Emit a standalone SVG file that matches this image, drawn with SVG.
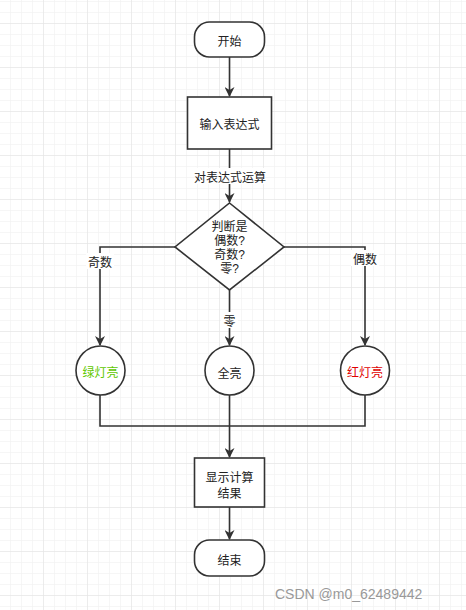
<svg xmlns="http://www.w3.org/2000/svg" width="466" height="610" viewBox="0 0 466 610">
<defs>
<pattern id="minor" width="11" height="11" patternUnits="userSpaceOnUse" x="-1" y="1">
<path d="M0 0H11M0 0V11" fill="none" stroke="#eeeeee" stroke-width="1"/>
</pattern>
<pattern id="major" width="44" height="44" patternUnits="userSpaceOnUse" x="-1" y="23">
<path d="M0 0H44M0 0V44" fill="none" stroke="#e2e2e2" stroke-width="1"/>
</pattern>
<marker id="arr" markerWidth="10" markerHeight="10" refX="9" refY="5" orient="auto" markerUnits="userSpaceOnUse">
<path d="M0 0L10 5L0 10L3 5Z" fill="#333"/>
</marker>
<style>
.n{fill:#fff;stroke:#333;stroke-width:1.6}
.c{fill:none;stroke:#333;stroke-width:1.6}
.t{font-family:"Noto Sans CJK SC","Liberation Sans",sans-serif;font-size:12px;fill:#222;text-anchor:middle;dominant-baseline:central}
.d{font-family:"Liberation Sans","Noto Sans CJK SC",sans-serif;font-size:12px;fill:#222;text-anchor:middle}
.lb{fill:#fff}
</style>
</defs>
<rect width="466" height="610" fill="#fff"/>
<rect width="466" height="610" fill="url(#minor)"/>
<rect width="466" height="610" fill="url(#major)"/>
<g id="connectors">
<path class="c" d="M229.5 57V96" marker-end="url(#arr)"/>
<path class="c" d="M229.5 149V202" marker-end="url(#arr)"/>
<rect class="lb" x="195" y="168" width="70" height="16"/>
<text class="t" x="230" y="176">对表达式运算</text>
<path class="c" d="M175 247H100V345" marker-end="url(#arr)"/>
<rect class="lb" x="86" y="253" width="28" height="16"/>
<text class="t" x="100" y="261">奇数</text>
<path class="c" d="M284 247H365V345" marker-end="url(#arr)"/>
<rect class="lb" x="351" y="250" width="28" height="16"/>
<text class="t" x="365" y="258">偶数</text>
<path class="c" d="M229.5 290V345" marker-end="url(#arr)"/>
<rect class="lb" x="221" y="312" width="17" height="16"/>
<text class="t" x="229.5" y="320">零</text>
<path class="c" d="M100 395V426H365V395"/>
<path class="c" d="M229.5 395V457" marker-end="url(#arr)"/>
<path class="c" d="M229.5 507V539" marker-end="url(#arr)"/>
</g>
<g id="start">
<rect class="n" x="194.5" y="22" width="70" height="35" rx="15"/>
<text class="t" x="229.5" y="40">开始</text>
</g>
<g id="input">
<rect class="n" x="187.5" y="97" width="84" height="52"/>
<text class="t" x="229.5" y="123">输入表达式</text>
</g>
<g id="decision">
<path class="n" d="M229.5 203L284 247L229.5 290L175 247Z"/>
<text class="d"><tspan x="229.5" y="230.5">判断是</tspan><tspan x="229.5" y="244.5">偶数?</tspan><tspan x="229.5" y="258.5">奇数?</tspan><tspan x="229.5" y="272.5">零?</tspan></text>
</g>
<g id="green">
<circle class="n" cx="100.5" cy="370.5" r="24.5"/>
<text class="t" x="100.5" y="371" style="fill:#5fc800">绿灯亮</text>
</g>
<g id="all">
<circle class="n" cx="229.5" cy="370.5" r="24.5"/>
<text class="t" x="229.5" y="372">全亮</text>
</g>
<g id="red">
<circle class="n" cx="365" cy="370.5" r="24.5"/>
<text class="t" x="365" y="371" style="fill:#e00000">红灯亮</text>
</g>
<g id="result">
<rect class="n" x="194.5" y="458" width="70" height="49"/>
<text class="t"><tspan x="229.5" y="476">显示计算</tspan><tspan x="229.5" y="492">结果</tspan></text>
</g>
<g id="end">
<rect class="n" x="194.5" y="540" width="70" height="36" rx="15"/>
<text class="t" x="229.5" y="559">结束</text>
</g>
<text x="275" y="599" style="font-family:'Liberation Sans',sans-serif;font-size:14px;fill:#999">CSDN @m0_62489442</text>
</svg>
